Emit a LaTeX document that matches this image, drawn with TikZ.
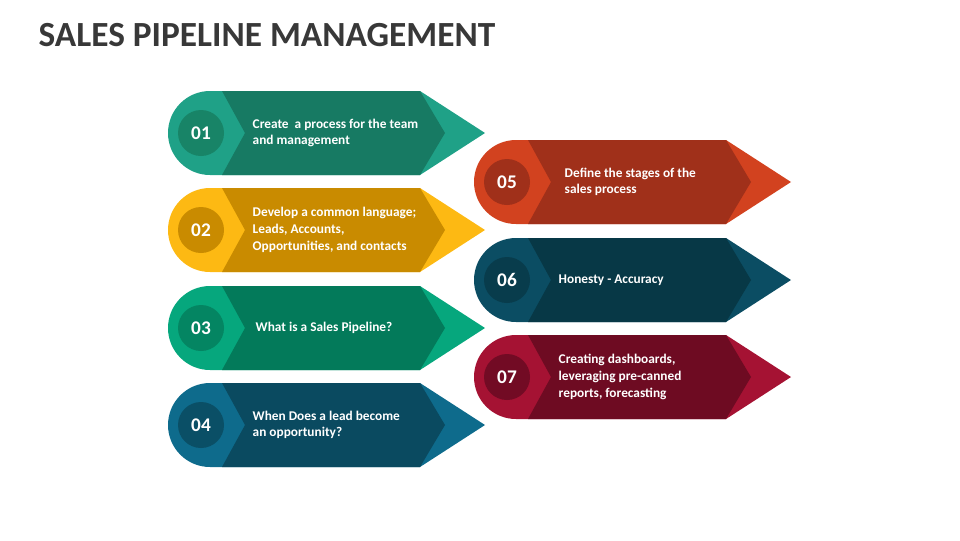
\documentclass[tikz,border=0pt]{standalone}
\usepackage{fontspec}
\setmainfont{Carlito}
\begin{document}
\begin{tikzpicture}[x=0.75pt,y=-0.75pt,
  txt/.style={text=white,font=\bfseries\fontsize{10}{12.5}\selectfont,align=left,anchor=west},
  num/.style={text=white,font=\bfseries\fontsize{14.5}{16}\selectfont}]
\useasboundingbox (0,0) rectangle (960,540);
\node[anchor=west,text=black!78,font=\bfseries\fontsize{26.5}{30}\selectfont] (title) at (34,35) {SALES PIPELINE MANAGEMENT};
\newcommand{\pipeitem}[7]{% x y light dark circle num text
  \fill[#3] (#1+42,#2-42) -- (#1+252,#2-42) -- (#1+317,#2) -- (#1+252,#2+42) -- (#1+42,#2+42) arc[start angle=90,end angle=270,radius=42] -- cycle;
  \fill[#4] (#1+54,#2-42) -- (#1+252,#2-42) -- (#1+277,#2) -- (#1+252,#2+42) -- (#1+54,#2+42) -- (#1+77,#2) -- cycle;
  \fill[#5] (#1+33,#2) circle[radius=23];
  \node[num] (n#6) at (#1+33,#2) {#6};
  \node[txt] (t#6) at (#1+80,#2) {#7};
}
\definecolor{aL}{HTML}{1FA187}\definecolor{aD}{HTML}{177A63}\definecolor{aC}{HTML}{188467}
\definecolor{bL}{HTML}{FDB913}\definecolor{bD}{HTML}{C98B00}\definecolor{bC}{HTML}{C98B00}
\definecolor{cL}{HTML}{06A77D}\definecolor{cD}{HTML}{037A5A}\definecolor{cC}{HTML}{048562}
\definecolor{dL}{HTML}{0E6B8C}\definecolor{dD}{HTML}{0A4A60}\definecolor{dC}{HTML}{0A4F66}
\definecolor{eL}{HTML}{D2421F}\definecolor{eD}{HTML}{A0301A}\definecolor{eC}{HTML}{A0301A}
\definecolor{fL}{HTML}{0B4D63}\definecolor{fD}{HTML}{073846}\definecolor{fC}{HTML}{083C4C}
\definecolor{gL}{HTML}{A51233}\definecolor{gD}{HTML}{6E0B22}\definecolor{gC}{HTML}{720B24}
\pipeitem{168}{133}{aL}{aD}{aC}{01}{Create\ \ a process for the team\\and management}
\pipeitem{168}{230}{bL}{bD}{bC}{02}{Develop a common language;\\Leads, Accounts,\\Opportunities, and contacts}
\pipeitem{168}{328}{cL}{cD}{cC}{03}{\ What is a Sales Pipeline?}
\pipeitem{168}{425}{dL}{dD}{dC}{04}{When Does a lead become\\an opportunity?}
\pipeitem{474}{182}{eL}{eD}{eC}{05}{\ \ Define the stages of the\\\ \ sales process}
\pipeitem{474}{280}{fL}{fD}{fC}{06}{Honesty - Accuracy}
\pipeitem{474}{377}{gL}{gD}{gC}{07}{Creating dashboards,\\leveraging pre-canned\\reports, forecasting}
\end{tikzpicture}
\end{document}
